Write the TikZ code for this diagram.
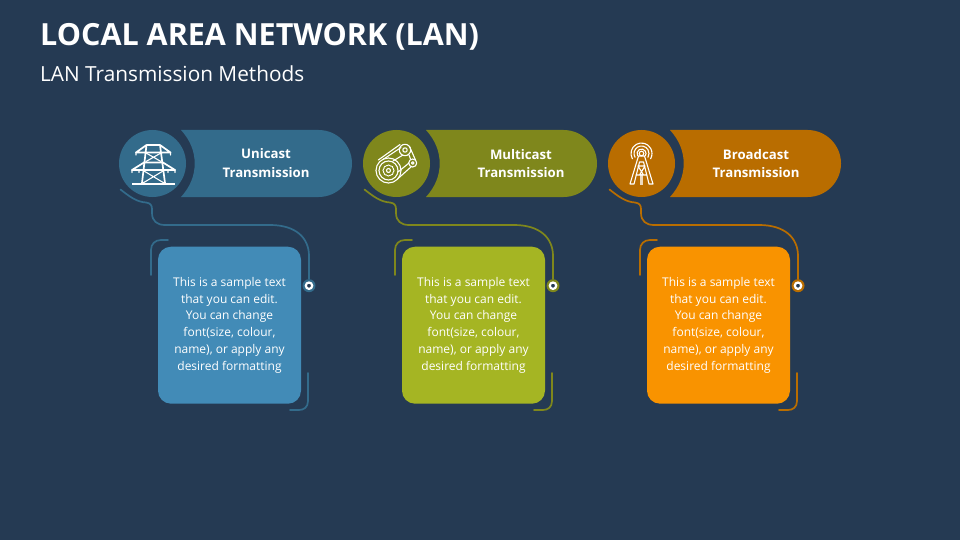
\documentclass[tikz,border=0pt]{standalone}
\usepackage{fontspec}
\setmainfont{Open Sans}
\definecolor{bgc}{HTML}{253A53}
\definecolor{pillA}{HTML}{336B8B}\definecolor{cardA}{HTML}{428BB7}
\definecolor{pillB}{HTML}{7F871C}\definecolor{cardB}{HTML}{A5B523}
\definecolor{pillC}{HTML}{B96D00}\definecolor{cardC}{HTML}{F99300}
\tikzset{
 x=1pt,y=-1pt,
 disc/.style={circle,minimum size=67pt,inner sep=0pt},
 cardbox/.style={rounded corners=13pt,minimum width=143pt,minimum height=157pt,inner sep=0pt,
   text=white,align=center,font=\fontsize{12}{16.7}\selectfont},
 head/.style={text=white,align=center,font=\fontsize{13.2}{18.8}\selectfont\bfseries},
 wire/.style={line width=1.7pt,line cap=round},
 dotnode/.style={circle,minimum size=13pt,inner sep=0pt},
 dotcore/.style={circle,minimum size=6.4pt,inner sep=0pt,fill=bgc,draw=white,line width=2.2pt},
 ico/.style={draw=white,line width=1.1pt,line join=round,line cap=round},
 icob/.style={draw=white,line width=1.7pt,line join=round,line cap=round},
}
\newcommand{\lanblock}[9]{% id, dx(circle/card), dx pill, pill colour, card colour, head x, head y, head, icon
 \begin{scope}[xshift=#2pt]
 \node[disc,fill=#4] (c#1) at (152.5,163.5) {};
 \node[cardbox,fill=#5] (b#1) at (229.5,325.2) {\raisebox{0.7pt}{\parbox{143pt}{\centering This is a sample text\\that you can edit.\\You can change\\font(size, colour,\\name), or apply any\\desired formatting}}};
 \node[dotnode,fill=#4] (d#1) at (309,285.7) {};
 \node[dotcore] (e#1) at (d#1) {};
 \coordinate (s#1) at (120.5,189.5);
 \draw[wire,draw=#4] (s#1) .. controls (130,197) and (137,202) .. (146,202.5)
   .. controls (150,203) and (152,205) .. (152,209) -- (152,213)
   .. controls (152,221) and (157,225) .. (165,225) -- (270,225)
   .. controls (296,225) and (309,238) .. (309,256) -- (d#1.north);
 \coordinate (p#1) at (151,275); \coordinate (q#1) at (168,240);
 \draw[wire,draw=#4] (p#1) -- (151,250) .. controls (151,244) and (155,240) .. (161,240) -- (q#1);
 \coordinate (r#1) at (308,373); \coordinate (t#1) at (290,410);
 \draw[wire,draw=#4] (r#1) -- (308,401) .. controls (308,407) and (304,410) .. (299,410) -- (t#1);
 #9
 \end{scope}
 \begin{scope}[xshift=#3pt]
 \fill[#4] (181,130) -- (318.5,130) .. controls (337,130) and (352,145) .. (352,163.5)
   .. controls (352,182) and (337,197) .. (318.5,197) -- (181,197)
   .. controls (190,187) and (194.7,176) .. (194.7,163.5)
   .. controls (194.7,151) and (190,140) .. (181,130) -- cycle;
 \node[head] (h#1) at (#6,#7) {#8};
 \end{scope}
}
\begin{document}
\begin{tikzpicture}
\useasboundingbox (0,0) rectangle (960,540);
\fill[bgc] (0,0) rectangle (960,540);
\node[anchor=west,text=white,font=\fontsize{30.5}{36}\selectfont\bfseries,inner sep=0pt] (title) at (40,37) {LOCAL AREA NETWORK (LAN)};
\node[anchor=west,text=white,font=\fontsize{20.8}{24}\selectfont,inner sep=0pt] (sub) at (40,74) {LAN Transmission Methods};
\lanblock{A}{0}{0}{pillA}{cardA}{266}{162.8}{Unicast\\Transmission}{
  % pylon
  \draw[icob] (146.5,145)--(160,145) (136,152.5)--(146.5,145) (170.5,152.5)--(160,145) (136,152.5)--(170.5,152.5)
    (132,170)--(144,162.5) (175,170)--(163,162.5) (132,170)--(175,170) (144,162.5)--(163,162.5)
    (146.5,145)--(142,183) (160,145)--(165,183);
  \draw[ico] (146,153)--(161,161.5) (161,153)--(146,161.5) (144,171)--(164,183) (163,171)--(143,183)
    (136,152.5)--(136,155) (170.5,152.5)--(170.5,155) (132,170)--(132,172.5) (175,170)--(175,172.5)
    (139,170)--(139,172.5) (168,170)--(168,172.5);
  \draw[draw=white,line width=1.9pt] (132,184)--(175,184);
}
\lanblock{B}{244}{245}{pillB}{cardB}{276}{163.6}{Multicast\\Transmission}{
  % pulley icon
  \draw[ico] (144.5,170.5) circle (12.5) circle (9.5) circle (2);
  \draw[ico,densely dotted] (144.5,170.5) circle (5.5);
  \draw[ico] (161,150) circle (5.7) circle (2.2);
  \draw[ico] (168.7,163) circle (4) circle (1.3);
  \draw[ico] (134.3,160) -- (156,144.5) (139,159.5) -- (157,147.5)
    (165.5,146.5) -- (171.5,160) (153.5,179) -- (167.5,166.5)
    (149,161) -- (159,155) (165,155) -- (166.5,159) (154,172) -- (165,163);
}
\lanblock{C}{489}{489}{pillC}{cardC}{267}{163.6}{Broadcast\\Transmission}{
  % mast
  \fill[white,opacity=.75] (150.7,174) rectangle (154.3,185);
  \draw[ico] (141,184)--(149.5,156)--(155.5,156)--(164,184)--(160,184)--(154.5,162)--(150.5,162)--(145,184)--cycle
    (149,166)--(156,166) (147,175)--(158,175) (149,166)--(154.5,175) (156,166)--(150.5,175);
  \draw[ico] (152.5,153.5) circle (2.3);
  \draw[ico] (143.4,158.75) arc[start angle=210,end angle=-30,radius=10.5pt];
  \draw[ico] (146,157.25) arc[start angle=210,end angle=-30,radius=7.5pt];
  \draw[ico] (148.6,155.75) arc[start angle=210,end angle=-30,radius=4.5pt];
}
\end{tikzpicture}
\end{document}
